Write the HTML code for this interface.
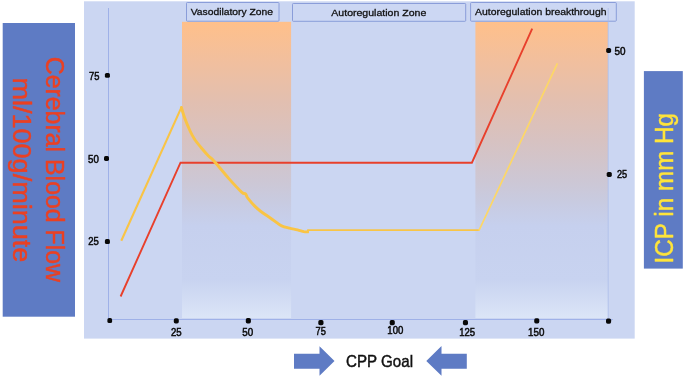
<!DOCTYPE html>
<html>
<head>
<meta charset="utf-8">
<title>Cerebral autoregulation</title>
<style>
html,body{margin:0;padding:0;background:#fff;}
body{width:685px;height:377px;overflow:hidden;}
svg{display:block;}
text{font-family:"Liberation Sans",sans-serif;}
</style>
</head>
<body>
<svg width="685" height="377" viewBox="0 0 685 377">
  <defs>
    <linearGradient id="zone" x1="0" y1="0" x2="0" y2="1">
      <stop offset="0" stop-color="#ffc08a"/>
      <stop offset="0.136" stop-color="#f1bf9e"/>
      <stop offset="0.27" stop-color="#e2bfb0"/>
      <stop offset="0.4" stop-color="#d7c2c1"/>
      <stop offset="0.534" stop-color="#cdc7d4"/>
      <stop offset="0.61" stop-color="#c8cbe1"/>
      <stop offset="0.69" stop-color="#c6d0ee"/>
      <stop offset="0.87" stop-color="#c8d3f0"/>
      <stop offset="1" stop-color="#dbe5f7"/>
    </linearGradient>
  </defs>
  <rect x="0" y="0" width="685" height="377" fill="#ffffff"/>
  <!-- chart background -->
  <rect x="84" y="1.3" width="550.7" height="337.3" fill="#cbd6f2"/>
  <!-- side boxes -->
  <rect x="2.7" y="23" width="72.3" height="293.7" fill="#5e7bc4"/>
  <rect x="643.9" y="71.1" width="38.9" height="197.5" fill="#5e7bc4"/>
  <!-- zones -->
  <rect x="182" y="21.8" width="109.1" height="296.2" fill="url(#zone)"/>
  <rect x="475.4" y="21.8" width="132.5" height="296.2" fill="url(#zone)"/>
  <!-- label boxes -->
  <g fill="#ccd7f3" stroke="#8296d6" stroke-width="0.9">
    <rect x="186.5" y="2.5" width="92.5" height="18.7" rx="0.8"/>
    <rect x="292.5" y="3.5" width="173.2" height="17.8" rx="0.8"/>
    <rect x="470.6" y="2.5" width="145.7" height="18.7" rx="0.8"/>
  </g>
  <g font-size="9.8" fill="#111" stroke="#111" stroke-width="0.3">
    <text x="190.7" y="14.9" textLength="82.3" lengthAdjust="spacingAndGlyphs">Vasodilatory Zone</text>
    <text x="331.3" y="15.9" textLength="95" lengthAdjust="spacingAndGlyphs">Autoregulation Zone</text>
    <text x="475.1" y="14.9" textLength="131.4" lengthAdjust="spacingAndGlyphs">Autoregulation breakthrough</text>
  </g>
  <!-- axes -->
  <g stroke="#9aade6" stroke-width="0.9" fill="none">
    <path d="M108.5 8V319.5H612.8"/>
    <path d="M608.2 8V320" stroke="#a9b9ea" stroke-width="0.7"/>
  </g>
  <!-- dots -->
  <g fill="#080808">
    <rect x="104.9" y="72.9" width="5" height="4.9" rx="1.6"/>
    <rect x="104" y="155.9" width="5" height="5" rx="1.6"/>
    <rect x="104.9" y="239.1" width="5" height="4.9" rx="1.6"/>
    <rect x="107.4" y="318" width="4.7" height="5.1" rx="1.7"/>
    <rect x="173.8" y="318.2" width="5" height="5.2" rx="1.7"/>
    <rect x="245.8" y="318.1" width="5.1" height="5.4" rx="1.7"/>
    <rect x="318.3" y="320.1" width="5.2" height="5.1" rx="1.7"/>
    <rect x="389.7" y="320.1" width="5.1" height="5.1" rx="1.7"/>
    <rect x="462.9" y="320.1" width="5.1" height="5.1" rx="1.7"/>
    <rect x="534.2" y="318.2" width="5.1" height="5.3" rx="1.7"/>
    <rect x="606" y="318.5" width="5.1" height="5.2" rx="1.7"/>
    <rect x="606.2" y="47.9" width="4.9" height="5" rx="1.6"/>
    <rect x="606.7" y="171.9" width="5.1" height="5" rx="1.6"/>
  </g>
  <!-- tick labels -->
  <g font-size="10.6" fill="#0a0a0a" stroke="#0a0a0a" stroke-width="0.5">
    <text x="89" y="79.6" textLength="10.4" lengthAdjust="spacingAndGlyphs">75</text>
    <text x="88.1" y="162.9" textLength="10.8" lengthAdjust="spacingAndGlyphs">50</text>
    <text x="88.3" y="245" textLength="10.6" lengthAdjust="spacingAndGlyphs">25</text>
    <text x="171" y="335.7" textLength="10.7" lengthAdjust="spacingAndGlyphs">25</text>
    <text x="242.3" y="335.9" textLength="10.9" lengthAdjust="spacingAndGlyphs">50</text>
    <text x="315.6" y="334.6" textLength="10.3" lengthAdjust="spacingAndGlyphs">75</text>
    <text x="387.3" y="333.5" textLength="16" lengthAdjust="spacingAndGlyphs">100</text>
    <text x="459.2" y="335.9" textLength="15.9" lengthAdjust="spacingAndGlyphs">125</text>
    <text x="528.1" y="335.9" textLength="16.3" lengthAdjust="spacingAndGlyphs">150</text>
    <text x="614.6" y="54.9" textLength="11" lengthAdjust="spacingAndGlyphs">50</text>
    <text x="616.9" y="178.3" textLength="10.2" lengthAdjust="spacingAndGlyphs">25</text>
  </g>
  <!-- curves -->
  <g fill="none" stroke-linejoin="round" stroke-linecap="butt">
    <path d="M120.6 296.5L180.5 162.7H471.9L532.2 28.7" stroke="#e8402c" stroke-width="1.9" stroke-linejoin="miter"/>
    <path d="M121.3 240.8L181.4 107.4" stroke="#f9c445" stroke-width="2.1"/>
    <path d="M181.4 107.4C181.9 109.1 183.1 113.6 184.5 117.5C185.9 121.4 188.4 127.3 190.1 131.0C191.8 134.7 193.1 137.0 194.9 139.8C196.8 142.6 199.1 145.2 201.2 147.7C203.3 150.2 205.6 152.8 207.6 154.9C209.6 157.0 211.6 158.6 213.0 160.0C214.4 161.4 213.4 160.4 216.1 163.5C218.8 166.6 224.7 173.8 228.9 178.6C233.2 183.4 238.8 189.6 241.6 192.1C244.3 194.6 244.5 193.0 245.4 193.8C246.3 194.7 246.7 196.3 247.2 197.2C247.7 198.0 247.2 197.4 248.4 198.9C249.6 200.4 252.4 203.8 254.5 205.9C256.6 208.0 258.5 209.7 260.9 211.5C263.3 213.3 266.2 215.2 268.9 217.0C271.5 218.8 274.7 221.1 276.8 222.6C278.9 224.1 279.5 224.9 281.6 225.8C283.7 226.7 286.9 227.5 289.5 228.2C292.1 228.9 295.1 229.2 297.5 229.8C299.9 230.4 302.1 231.2 303.8 231.6C305.5 231.9 307.0 231.8 307.6 231.9" stroke="#f9c445" stroke-width="2.9" stroke-linecap="round"/>
    <path d="M307.8 232.4V230.2H479.4" stroke="#f8c548" stroke-width="1.8"/>
    <path d="M478.9 230.6L557.4 63.3" stroke="#fdd766" stroke-width="1.7"/>
  </g>
  <!-- arrows -->
  <g fill="#5e7bc4">
    <path d="M294 353.8H319.5V346.3L334.5 361L319.5 375.7V368.7H294Z"/>
    <path d="M466.8 353.8H441.5V346.1L426.3 361L441.5 375.7V368.7H466.8Z"/>
  </g>
  <text x="346" y="366.5" font-size="17" fill="#111" stroke="#111" stroke-width="0.45" textLength="67" lengthAdjust="spacingAndGlyphs">CPP Goal</text>
  <!-- rotated labels -->
  <g font-size="25.2" fill="#ea4023" stroke="#ea4023" stroke-width="0.45" stroke-linejoin="round">
    <text transform="translate(45.8 56.7) rotate(90)" textLength="225.4" lengthAdjust="spacingAndGlyphs">Cerebral Blood Flow</text>
    <text transform="translate(13.2 77.5) rotate(90)" textLength="184.8" lengthAdjust="spacingAndGlyphs">ml/100g/minute</text>
  </g>
  <text transform="translate(672.6 263.4) rotate(-90)" font-size="25.4" fill="#ffe43a" stroke="#ffe43a" stroke-width="0.45" stroke-linejoin="round" textLength="150.5" lengthAdjust="spacingAndGlyphs">ICP in mm Hg</text>
</svg>
</body>
</html>
